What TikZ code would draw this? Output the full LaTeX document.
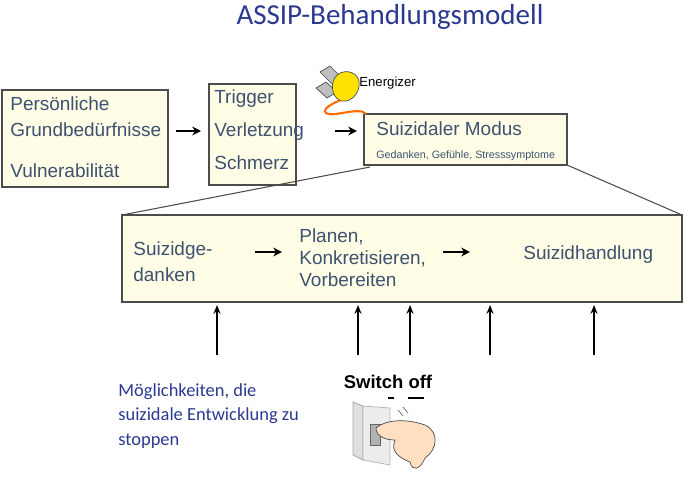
\documentclass[tikz,border=0pt]{standalone}
\usepackage{fontspec}
\setmainfont{Liberation Sans}
\newfontfamily\calibri{Carlito}
\usetikzlibrary{arrows.meta,positioning}
\definecolor{boxfill}{HTML}{FFFDE6}
\definecolor{boxtext}{HTML}{3D5170}
\definecolor{titleblue}{HTML}{2B3990}
\begin{document}
\begin{tikzpicture}[x=0.02cm,y=-0.02cm]
% ---------------------------------------------------------
% Styles
% ---------------------------------------------------------
\tikzset{
  stage box/.style={fill=boxfill, draw=black!70, line width=0.6pt},
  box text/.style={text=boxtext, font=\fontsize{10.8}{15}\selectfont, align=left, anchor=north west, inner sep=0pt},
  flow arrow/.style={-{Stealth[length=5pt,width=5pt]}, line width=1.1pt},
  up arrow/.style={-{Stealth[length=5pt,width=4pt]}, line width=0.9pt}
}
\useasboundingbox (0,0) rectangle (685,481);

% title
\node[font=\calibri\fontsize{16.5}{18}\selectfont, text=titleblue] (title) at (390,17) {ASSIP-Behandlungsmodell};

% =========================================================
% 1) TOP ROW
% =========================================================
\filldraw[stage box] (2,90) rectangle (168,187);
\filldraw[stage box] (209,84) rectangle (296,185);
\filldraw[stage box] (364,114) rectangle (567,165);

\node[box text] (need) at (10,96) {Persönliche\\Grundbedürfnisse};
\node[box text] (vuln) at (10,163) {Vulnerabilität};
\node[box text, align=left] (trig) at (214,89) {Trigger\\[4pt]Verletzung\\[4pt]Schmerz};
\node[box text] (mode) at (376,121) {Suizidaler Modus};
\node[box text, font=\fontsize{6.1}{8}\selectfont] (sympt) at (376,150) {Gedanken, Gefühle, Stresssymptome};

\draw[flow arrow] (176,131) -- (201,131);
\draw[flow arrow] (335,131) -- (357,131);

% energizer plug
\draw[orange!85!red, line width=1.2pt] (345,98) .. controls (332,104) and (322,108) .. (326,113)
  .. controls (332,118) and (360,106) .. (366,114);
\filldraw[fill=gray!50, draw=black!70] (320,72) -- (330,66) -- (342,78) -- (332,84) -- cycle;
\filldraw[fill=gray!50, draw=black!70] (316,88) -- (326,82) -- (337,92) -- (327,98) -- cycle;
\filldraw[fill=yellow!85!orange, draw=black!70] (333,82) .. controls (336,70) and (352,68) .. (358,78)
  .. controls (363,90) and (352,103) .. (342,101) .. controls (334,99) and (331,90) .. (333,82) -- cycle;
\node[font=\fontsize{7.5}{9}\selectfont, anchor=west, inner sep=0pt] (energ) at (359,83) {Energizer};

% =========================================================
% 2) ZOOMED BOX
% =========================================================
\draw[black!70, line width=0.6pt] (370,167) -- (122,215);
\draw[black!70, line width=0.6pt] (567,165) -- (682,215);
\filldraw[stage box] (122,215) rectangle (682,302);

\node[box text] (think) at (133,241) {Suizidge-\\danken};
\node[box text, font=\fontsize{10.8}{12.5}\selectfont] (plan) at (299,228) {Planen,\\Konkretisieren,\\Vorbereiten};
\node[box text] (act) at (523,245) {Suizidhandlung};

\draw[flow arrow, line width=0.9pt] (255,252) -- (282,252);
\draw[flow arrow, line width=0.9pt] (443,252) -- (470,252);

\foreach \x in {217,358,410,490,594}
  \draw[up arrow] (\x,355) -- (\x,305);

% =========================================================
% 3) BOTTOM
% =========================================================
\node[font=\calibri\fontsize{10.5}{14}\selectfont, text=titleblue, align=left, anchor=north west, inner sep=0pt] (ways) at (118,383)
  {Möglichkeiten, die\\suizidale Entwicklung zu\\stoppen};
\node[font=\bfseries\fontsize{10.5}{12}\selectfont, inner sep=0pt] (switch) at (388,382) {Switch off};
\draw[line width=0.6pt] (388,398) -- (394,398) (408,398) -- (424,398);

% switch with finger
\filldraw[fill=gray!25, draw=gray!70] (353,402) -- (363,406) -- (363,460) -- (353,455) -- cycle;
\filldraw[fill=gray!15, draw=gray!60] (363,406) -- (390,408) -- (390,465) -- (363,460) -- cycle;
\filldraw[fill=gray!60, draw=black!60] (370,424) rectangle (380,445);
\filldraw[fill=orange!25, draw=black!70] (376,428) .. controls (385,420) and (405,418) .. (425,425)
  .. controls (440,432) and (437,450) .. (425,458) .. controls (420,470) and (412,472) .. (410,462)
  .. controls (400,458) and (390,452) .. (395,440) .. controls (385,440) and (376,436) .. (376,428) -- cycle;
\draw[black!60] (398,410) -- (403,416) (403,407) -- (408,413);
\end{tikzpicture}
\end{document}
